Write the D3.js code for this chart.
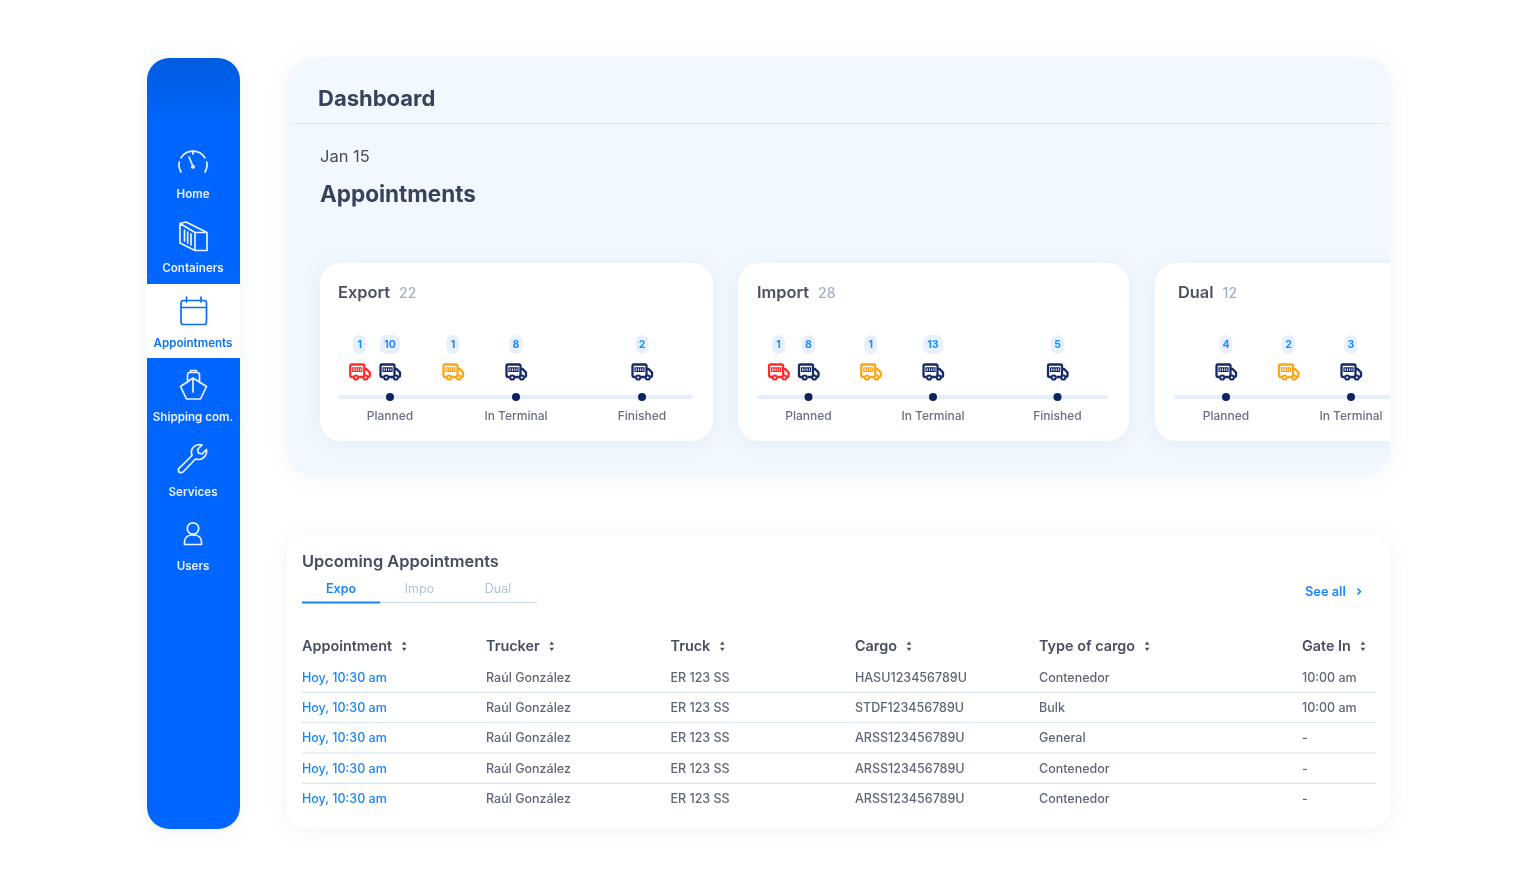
<!doctype html>
<html lang="en">
<head>
<meta charset="utf-8"/>
<title>Dashboard</title>
<script src="https://cdn.jsdelivr.net/npm/d3@7"></script>
<style>
  html, body { margin: 0; background: #fff; }
  svg { display: block; filter: blur(0.3px); }
  text { font-family: Inter, Roboto, sans-serif; }
</style>
</head>
<body>
<div id="chart"></div>
<script>
// nav
var navLabels = ["Home", "Containers", "Appointments", "Shipping com.", "Services", "Users"];
var activeNav = "Appointments";

// appointment cards
var cardTitles = ["Export", "Import", "Dual"];
var cardTotals = [22, 28, 12];
var cardStages = [
  ["Planned", "In Terminal", "Finished"],
  ["Planned", "In Terminal", "Finished"],
  ["Planned", "In Terminal"]
];
// where each truck sits on the timeline, counted in stages
var exportStops = [-0.24, 0, 0.5, 1, 2];
var exportCounts = [1, 10, 1, 8, 2];
var exportKinds = ["late", "ok", "warn", "ok", "ok"];
var importStops = [-0.24, 0, 0.5, 1, 2];
var importCounts = [1, 8, 1, 13, 5];
var importKinds = ["late", "ok", "warn", "ok", "ok"];
var dualStops = [0, 0.5, 1];
var dualCounts = [4, 2, 3];
var dualKinds = ["ok", "warn", "ok"];

// table
var tabs = ["Expo", "Impo", "Dual"];
var columns = ["Appointment", "Trucker", "Truck", "Cargo", "Type of cargo", "Gate In"];
var appointmentCol = ["Hoy, 10:30 am", "Hoy, 10:30 am", "Hoy, 10:30 am", "Hoy, 10:30 am", "Hoy, 10:30 am"];
var truckerCol = ["Raúl González", "Raúl González", "Raúl González", "Raúl González", "Raúl González"];
var truckCol = ["ER 123 SS", "ER 123 SS", "ER 123 SS", "ER 123 SS", "ER 123 SS"];
var cargoCol = ["HASU123456789U", "STDF123456789U", "ARSS123456789U", "ARSS123456789U", "ARSS123456789U"];
var typeCol = ["Contenedor", "Bulk", "General", "Contenedor", "Contenedor"];
var gateCol = ["10:00 am", "10:00 am", "-", "-", "-"];

var w = 1536, h = 886;
var link = "#1a86f5", navy = "#0d2260", grey = "#5f6675";
var kindColor = d3.scaleOrdinal().domain(["late", "ok", "warn"]).range(["#ff2a2a", "#15296b", "#ffa514"]);

var svg = d3.select("#chart").append("svg").attr("width", w).attr("height", h);
var defs = svg.append("defs");

var grad = defs.append("linearGradient").attr("id", "navGrad").attr("x1", 0).attr("x2", 0).attr("y1", 0).attr("y2", 1);
grad.append("stop").attr("offset", "0").attr("stop-color", "#005ddf");
grad.append("stop").attr("offset", "0.09").attr("stop-color", "#0066ff");

var soft = defs.append("filter").attr("id", "soft").attr("x", "-10%").attr("y", "-15%").attr("width", "120%").attr("height", "130%");
soft.append("feDropShadow").attr("dx", 0).attr("dy", 2).attr("stdDeviation", 9).attr("flood-color", "#8aa0c0").attr("flood-opacity", 0.13);

defs.append("clipPath").attr("id", "panelClip").append("rect").attr("x", 287).attr("y", 58).attr("width", 1103).attr("height", 417);

// truck symbol, drawn with currentColor
var truck = defs.append("g").attr("id", "truck").attr("fill", "none").attr("stroke", "currentColor");
truck.append("path").attr("stroke-width", 2.3)
  .attr("d", "M-6.5 5.5H-8.2Q-9.5 5.5 -9.5 4.2V-5.7Q-9.5 -7 -8.2 -7H3.2Q4.5 -7 4.5 -5.7V5.5H-1M4.5 -2.5H6.5L10 1V4.2Q10 5.5 8.7 5.5H8.3M4.5 5.5H3.2");
truck.append("circle").attr("cx", -3.8).attr("cy", 6).attr("r", 2.1).attr("stroke-width", 2).attr("fill", "#fff");
truck.append("circle").attr("cx", 5.8).attr("cy", 6).attr("r", 2.1).attr("stroke-width", 2).attr("fill", "#fff");
truck.append("path").attr("stroke-width", 1.2)
  .attr("d", "M-7 -3.6H2V-0.2H-7ZM-4.6 -3.6V-0.2M-2.4 -3.6V-0.2M-0.2 -3.6V-0.2");

// nav bar
svg.append("rect").attr("x", 147).attr("y", 58).attr("width", 93).attr("height", 771).attr("rx", 22)
  .attr("fill", "url(#navGrad)").attr("filter", "url(#soft)");

var navY = d3.scalePoint().domain(navLabels).range([194, 566]);
svg.append("rect").attr("x", 147).attr("y", 284).attr("width", 93).attr("height", 74).attr("fill", "#fff");

svg.selectAll("text.nav").data(navLabels).enter().append("text")
  .attr("class", "nav")
  .attr("x", 193).attr("y", function(d) { return navY(d); }).attr("dy", "0.35em")
  .attr("text-anchor", "middle").attr("font-size", 11.6).attr("font-weight", 600)
  .attr("fill", function(d) { return d === activeNav ? "#0b74f5" : "#e6f1ff"; })
  .text(function(d) { return d; });

// nav icons, each an outline drawn in page coordinates
var navIcons = {
  "Home": "M181 172A14 14 0 0 1 179.3 162M181 157.8A14 14 0 0 1 204.9 157.8M206.7 162A14 14 0 0 1 205 172M193 151V154M189 157L192.6 165.5M193 165.5A1.2 1.2 0 1 1 192.9 165.5",
  "Containers": "M180 223.5L186 222L207 232.5V250.5H195L180 243ZM180 223.5L195 232.5V250.5M195 232.5L207 232.5M184.5 230V241M187.7 232V243M191 234V245",
  "Appointments": "M183.5 300.5H204Q206.5 300.5 206.5 303V322Q206.5 324.5 204 324.5H183.5Q181 324.5 181 322V303Q181 300.5 183.5 300.5ZM181 307.5H206.5M186.5 297V302M201 297V302",
  "Shipping com.": "M193 378L206.5 386.5L200.5 399H186.5L180.5 386.5ZM187.5 382.5V375Q187.5 372.5 190 372.5H197Q199.5 372.5 199.5 375V382.5M190.5 372.5V370.5H196.5V372.5M193 378V392",
  "Services": "M180.5 467L192 455.5C190 450 193 446 197 445C199 444.5 201 444.5 202 445L197.5 449.5L198.5 453L202 454L206.5 449.5C207.5 454 204 459 199 459.5C197.5 459.5 196.5 459.5 195.5 459L184 471C182 473.5 179 473 178.5 471C178 469.5 179 468 180.5 467Z",
  "Users": "M184.5 544.5V541.5C184.5 537.5 188 535 193 535C198 535 201.5 537.5 201.5 541.5V544.5ZM198.7 528.5A5.7 5.7 0 1 1 187.3 528.5A5.7 5.7 0 1 1 198.7 528.5Z"
};
svg.selectAll("path.navIcon").data(navLabels).enter().append("path")
  .attr("class", "navIcon")
  .attr("d", function(d) { return navIcons[d]; })
  .attr("fill", "none").attr("stroke-width", 1.7).attr("stroke-linecap", "round").attr("stroke-linejoin", "round")
  .attr("stroke", function(d) { return d === activeNav ? "#0b6ff5" : "#eaf3ff"; });

// dashboard panel
svg.append("rect").attr("x", 287).attr("y", 58).attr("width", 1103).attr("height", 417).attr("rx", 26)
  .attr("fill", "#f1f8fe").attr("filter", "url(#soft)");
svg.append("line").attr("x1", 291).attr("x2", 1390).attr("y1", 123.5).attr("y2", 123.5).attr("stroke", "#dfe8f2").attr("stroke-width", 1.2);
addText(svg, 318, 98, "Dashboard", 22, 700, "#36435a");
addText(svg, 320, 156.5, "Jan 15", 16.5, 400, "#454d5c");
addText(svg, 320, 194.5, "Appointments", 22.5, 700, "#36435a");

var cardBoxes = [[320, 393], [738, 391], [1155, 300]];
var lineEnds = [[338, 693], [757, 1108], [1174, 1400]];
var stageRanges = [[390, 516], [808.5, 933], [1226, 1351]];
var cardStops = [exportStops, importStops, dualStops];
var cardCounts = [exportCounts, importCounts, dualCounts];
var cardKinds = [exportKinds, importKinds, dualKinds];
var titleX = [338, 757, 1178];

var panel = svg.append("g").attr("clip-path", "url(#panelClip)");

cardTitles.forEach(function(title, i) {
  var g = panel.append("g");
  var x = d3.scaleLinear().domain([0, 1]).range(stageRanges[i]);

  g.append("rect").attr("x", cardBoxes[i][0]).attr("y", 263).attr("width", cardBoxes[i][1]).attr("height", 178)
    .attr("rx", 21).attr("fill", "#fff").attr("filter", "url(#soft)");

  var t = addText(g, titleX[i], 292.5, title, 16.4, 600, "#4a5161");
  addText(g, titleX[i] + t.node().getComputedTextLength() + 9, 293, cardTotals[i], 14, 500, "#a6aec4");

  g.append("rect").attr("x", lineEnds[i][0]).attr("y", 395).attr("width", lineEnds[i][1] - lineEnds[i][0]).attr("height", 4)
    .attr("rx", 2).attr("fill", "#e6eefa");

  var stages = g.selectAll("g.stage").data(cardStages[i]).enter().append("g")
    .attr("class", "stage")
    .attr("transform", function(d, k) { return "translate(" + x(k) + ",0)"; });
  stages.append("circle").attr("cy", 397).attr("r", 4).attr("fill", navy);
  stages.append("text").attr("y", 416).attr("dy", "0.35em").attr("text-anchor", "middle")
    .attr("font-size", 12).attr("font-weight", 450).attr("fill", "#6a7080").text(function(d) { return d; });

  var rows = cardStops[i].map(function(s, k) {
    return { stop: s, count: cardCounts[i][k], kind: cardKinds[i][k] };
  });
  var marks = g.selectAll("g.mark").data(rows).enter().append("g")
    .attr("class", "mark")
    .attr("transform", function(d) { return "translate(" + x(d.stop) + ",0)"; });
  marks.append("rect")
    .attr("x", function(d) { return d.count > 9 ? -10 : -6.5; })
    .attr("width", function(d) { return d.count > 9 ? 20 : 13; })
    .attr("y", 335).attr("height", 19).attr("rx", 6.5).attr("fill", "#e7f0fc");
  marks.append("text").attr("y", 344.5).attr("dy", "0.35em").attr("text-anchor", "middle")
    .attr("font-size", 10.5).attr("font-weight", 700).attr("fill", "#1a8cff").text(function(d) { return d.count; });
  marks.append("use").attr("href", "#truck").attr("y", 371.5)
    .style("color", function(d) { return kindColor(d.kind); });
});

// upcoming table
svg.append("rect").attr("x", 287).attr("y", 535).attr("width", 1103).attr("height", 293).attr("rx", 20)
  .attr("fill", "#fff").attr("filter", "url(#soft)");
addText(svg, 302, 561.5, "Upcoming Appointments", 16.4, 600, "#454e60");

var tabX = d3.scalePoint().domain(tabs).range([341, 498]);
svg.append("line").attr("x1", 302).attr("x2", 537).attr("y1", 602.5).attr("y2", 602.5).attr("stroke", "#c9d8ec");
svg.append("line").attr("x1", 302).attr("x2", 380).attr("y1", 602.5).attr("y2", 602.5).attr("stroke", link).attr("stroke-width", 2);
svg.selectAll("text.tab").data(tabs).enter().append("text")
  .attr("class", "tab")
  .attr("x", function(d) { return tabX(d); }).attr("y", 589).attr("dy", "0.35em").attr("text-anchor", "middle")
  .attr("font-size", 12.5).attr("font-weight", function(d, i) { return i === 0 ? 600 : 400; })
  .attr("fill", function(d, i) { return i === 0 ? link : "#b4c2d6"; })
  .text(function(d) { return d; });

addText(svg, 1305, 591.5, "See all", 12.8, 600, link);
svg.append("path").attr("d", "M1357.5 588.5L1360.5 591.5L1357.5 594.5").attr("fill", "none").attr("stroke", link).attr("stroke-width", 1.6);

var colX = d3.scaleOrdinal().domain(columns).range([302, 486, 670.5, 855, 1039, 1302]);
var tableRows = d3.range(appointmentCol.length);
var rowY = d3.scalePoint().domain(tableRows).range([677.3, 798.8]);
var tableCols = [appointmentCol, truckerCol, truckCol, cargoCol, typeCol, gateCol];

columns.forEach(function(col, c) {
  var head = addText(svg, colX(col), 646, col, 14.4, 600, "#474f60");
  var ax = colX(col) + head.node().getComputedTextLength() + 12;
  svg.append("path").attr("fill", "#474f60")
    .attr("d", "M" + (ax - 2.3) + " 644.8L" + ax + " 641.5L" + (ax + 2.3) + " 644.8ZM" + (ax - 2.3) + " 647.7L" + ax + " 651L" + (ax + 2.3) + " 647.7Z");

  svg.selectAll("text.col" + c).data(tableCols[c]).enter().append("text")
    .attr("class", "col" + c)
    .attr("x", colX(col)).attr("y", function(d, r) { return rowY(r); }).attr("dy", "0.35em")
    .attr("font-size", 12.5).attr("font-weight", 450).attr("fill", c === 0 ? link : grey)
    .text(function(d) { return d; });
});

svg.selectAll("line.rule").data(tableRows.slice(0, -1)).enter().append("line")
  .attr("class", "rule")
  .attr("x1", 302).attr("x2", 1376)
  .attr("y1", function(d) { return (rowY(d) + rowY(d + 1)) / 2 - 0.2; })
  .attr("y2", function(d) { return (rowY(d) + rowY(d + 1)) / 2 - 0.2; })
  .attr("stroke", "#dbe6f3").attr("stroke-width", 1.3);

function addText(parent, x, y, str, size, weight, fill) {
  return parent.append("text").attr("x", x).attr("y", y).attr("dy", "0.35em")
    .attr("font-size", size).attr("font-weight", weight).attr("fill", fill).text(str);
}
</script>
</body>
</html>
